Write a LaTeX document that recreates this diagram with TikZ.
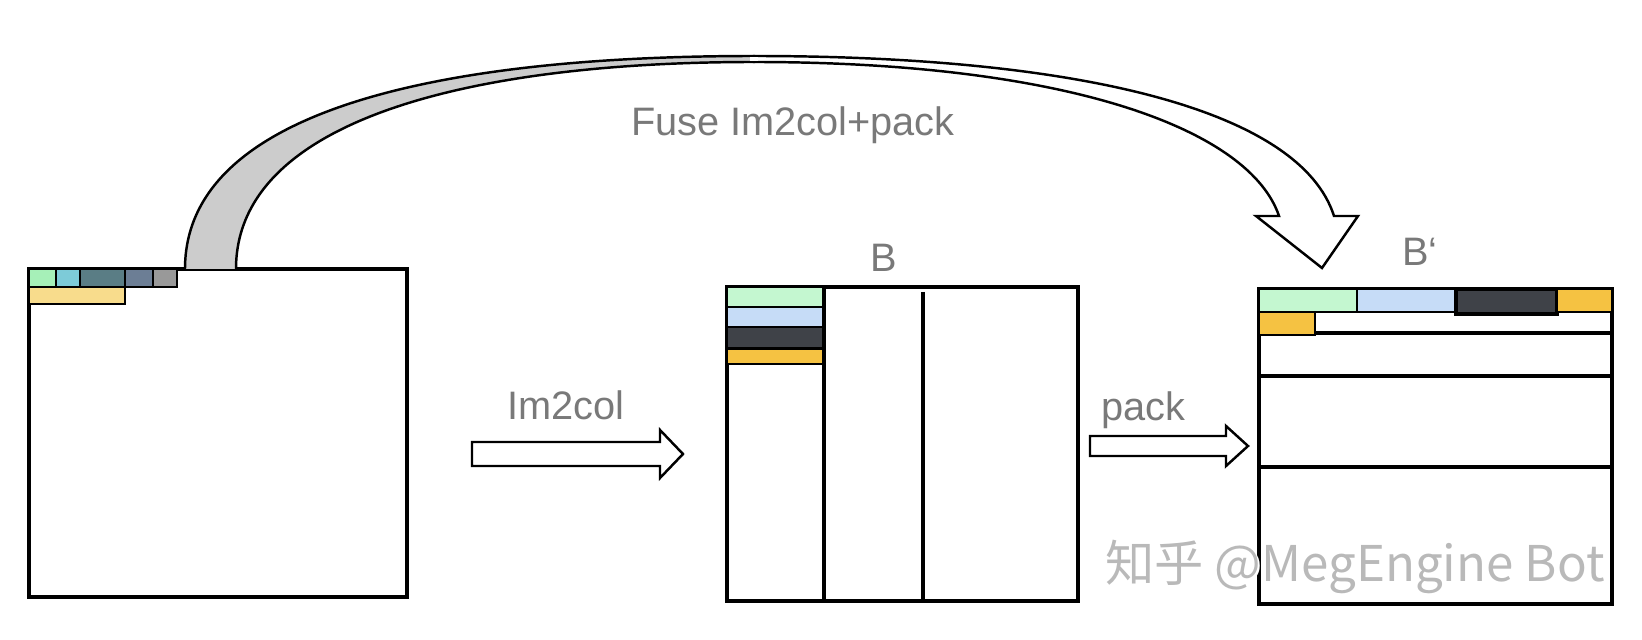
\documentclass[tikz,border=0pt]{standalone}
\usepackage{fontspec}
\setmainfont{Liberation Sans}
\newfontfamily\cjk{Noto Sans CJK SC}
\begin{document}
\begin{tikzpicture}[x=0.01cm,y=-0.01cm,
  box/.style={draw=black,line width=0.9pt},
  cell/.style={draw=black,line width=0.7pt},
  lbl/.style={text=gray!95!black,font=\fontsize{11.3}{13}\selectfont,inner sep=0pt},
  fat/.style={draw=black,fill=white,line width=0.7pt,line join=miter}]
\useasboundingbox (0,0) rectangle (1642,640);
% left input
\draw[box] (29,269) rectangle (407,597);
\fill[gray!40,draw=black,line width=0.7pt] (185,269) .. controls (185,110) and (440,56) .. (754,56)
  -- (754,62) .. controls (470,62) and (236,120) .. (236,269);
\draw[fat] (754,56) .. controls (1080,56) and (1300,110) .. (1334,216) -- (1358,216) -- (1322,268) -- (1256,216) -- (1279,216)
  .. controls (1250,130) and (1070,62) .. (754,62) -- cycle;
\fill[white] (750,56.6) rectangle (758,61.4);
\draw[cell,fill={rgb,255:red,166;green,240;blue,184}] (29,269) rectangle (56,287);
\draw[cell,fill={rgb,255:red,125;green,203;blue,216}] (56,269) rectangle (80,287);
\draw[cell,fill={rgb,255:red,90;green,125;blue,133}] (80,269) rectangle (125,287);
\draw[cell,fill={rgb,255:red,108;green,126;blue,149}] (125,269) rectangle (153,287);
\draw[cell,fill={rgb,255:red,153;green,153;blue,153}] (153,269) rectangle (177,287);
\draw[cell,fill={rgb,255:red,248;green,220;blue,140}] (29,287) rectangle (125,304);
\node[lbl] (fuse) at (793,125) {Fuse Im2col+pack};
% im2col arrow
\node[lbl] (im2col) at (566,405) {Im2col};
\draw[fat] (472,442) -- (660,442) -- (660,430) -- (683,454) -- (660,478) -- (660,466) -- (472,466) -- cycle;
% B
\node[lbl] (B) at (884,258) {B};
\draw[box] (727,287) rectangle (1078,601);
\draw[cell,fill={rgb,255:red,196;green,247;blue,208}] (727,287) rectangle (824,307);
\draw[cell,fill={rgb,255:red,198;green,220;blue,247}] (727,307) rectangle (824,327);
\draw[cell,fill={rgb,255:red,63;green,66;blue,72}] (727,327) rectangle (824,348);
\draw[cell,fill={rgb,255:red,245;green,194;blue,66}] (727,349) rectangle (824,364);
\draw[box] (824,287) -- (824,601);
\draw[box] (923,292) -- (923,601);
% pack arrow
\node[lbl] (pack) at (1143,410) {pack};
\draw[fat] (1090,436) -- (1226,436) -- (1226,426) -- (1248,446) -- (1226,466) -- (1226,456) -- (1090,456) -- cycle;
% B'
\node[lbl] (Bp) at (1420,252) {B‘};
\draw[box] (1259,289) rectangle (1612,604);
\draw[box] (1259,333) -- (1612,333);
\draw[box] (1259,376) -- (1612,376);
\draw[box] (1259,467) -- (1612,467);
\draw[cell,fill={rgb,255:red,196;green,247;blue,208}] (1259,289) rectangle (1357,312);
\draw[cell,fill={rgb,255:red,198;green,220;blue,247}] (1357,289) rectangle (1456,312);
\draw[cell,fill={rgb,255:red,63;green,66;blue,72},line width=1pt] (1456,289) rectangle (1557,314);
\draw[cell,fill={rgb,255:red,245;green,194;blue,66}] (1557,289) rectangle (1612,312);
\draw[cell,fill={rgb,255:red,245;green,194;blue,66}] (1259,312) rectangle (1315,335);
% watermark
\node[text=white,font=\cjk\fontsize{14}{16}\selectfont,inner sep=0pt] at (1356.5,569) {知乎 @MegEngine Bot};
\node[text=gray!55,font=\cjk\fontsize{14}{16}\selectfont,inner sep=0pt] (wm) at (1355,567) {知乎 @MegEngine Bot};
\end{tikzpicture}
\end{document}
